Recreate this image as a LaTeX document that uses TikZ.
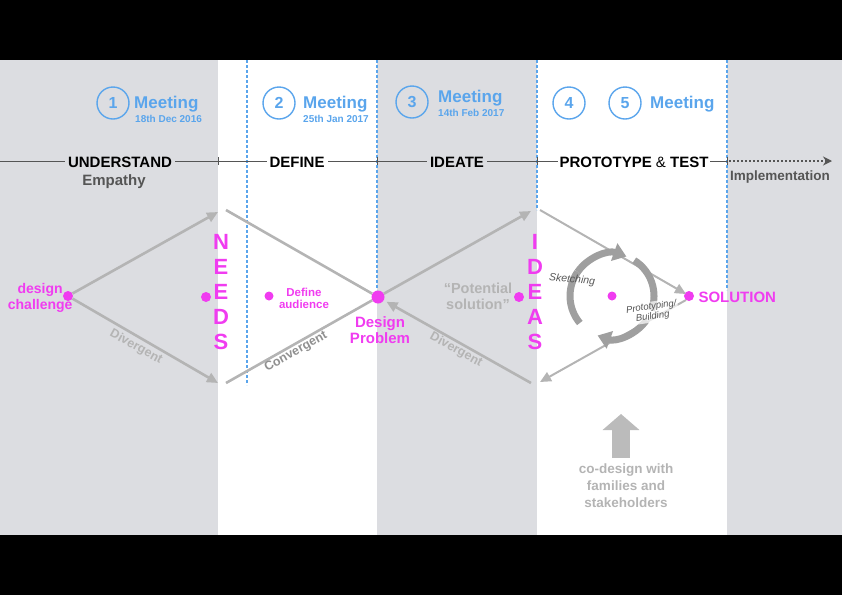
\documentclass[tikz,border=0pt]{standalone}
\usepackage{fontspec}
\setmainfont{Liberation Sans}
\usetikzlibrary{arrows.meta}
\definecolor{bandgray}{HTML}{DCDDE1}
\definecolor{blu}{HTML}{5AA5EC}
\definecolor{mag}{HTML}{F03CF0}
\definecolor{arr}{HTML}{B4B4B4}
\definecolor{dk}{HTML}{555555}
\begin{document}
\begin{tikzpicture}[x=1pt,y=-1pt,
  band/.style={fill=bandgray,draw=none},
  vdash/.style={blu,densely dashed,line width=1.2pt},
  num/.style={circle,draw=blu,line width=1.4pt,text=blu,minimum size=32pt,inner sep=0pt,font=\bfseries\fontsize{16}{16}\selectfont},
  meet/.style={text=blu,font=\bfseries\fontsize{17}{17}\selectfont,anchor=west,inner sep=0pt},
  date/.style={text=blu,font=\bfseries\fontsize{10}{10}\selectfont,anchor=west,inner sep=0pt},
  phase/.style={font=\bfseries\fontsize{15}{15}\selectfont,inner sep=3pt},
  big/.style={-{Triangle[length=11pt,width=10pt]},arr,line width=2.6pt},
  pt/.style={circle,fill=mag,inner sep=0pt,minimum size=10pt},
  mt/.style={text=mag,font=\bfseries\fontsize{15}{16}\selectfont,align=center},
  gl/.style={text=arr,font=\bfseries\fontsize{12.5}{12}\selectfont,inner sep=0pt},
  vert/.style={text=mag,font=\bfseries\fontsize{22}{25}\selectfont,align=center}]
\useasboundingbox (0,0) rectangle (842,595);
\fill[black] (0,0) rectangle (842,60);
\fill[black] (0,535) rectangle (842,595);
\fill[bandgray] (0,60) rectangle (218,535);
\fill[bandgray] (377,60) rectangle (537,535);
\fill[bandgray] (727,60) rectangle (842,535);
\draw[vdash] (247,60) -- (247,385);
\draw[vdash] (377,60) -- (377,290);
\draw[vdash] (537,60) -- (537,210);
\draw[vdash] (727,60) -- (727,290);
% meetings
\node[num] (n1) at (113,103) {1};
\node[meet] (m1) at (134,104) {Meeting};
\node[date] (d1) at (135,119) {18th Dec 2016};
\node[num] (n2) at (279,103) {2};
\node[meet] (m2) at (303,104) {Meeting};
\node[date] (d2) at (303,119) {25th Jan 2017};
\node[num] (n3) at (412,102) {3};
\node[meet] (m3) at (438,98) {Meeting};
\node[date] (d3) at (438,113) {14th Feb 2017};
\node[num] (n4) at (569,103) {4};
\node[num] (n5) at (625,103) {5};
\node[meet] (m5) at (650,104) {Meeting};
% timeline
\coordinate (t0) at (0,161);
\coordinate (tend) at (832,161);
\draw[dk,line width=0.8pt] (t0) -- (727,161);
\draw[dk,line width=2pt,dotted,-{Stealth[length=9pt,width=9pt]}] (729,161) -- (tend);
\foreach \x in {218,377,537,727} \draw[dk,line width=0.8pt] (\x,157) -- (\x,165);
\node[phase,fill=bandgray] (p1) at (120,162) {UNDERSTAND};
\node[text=dk,font=\bfseries\fontsize{15}{15}\selectfont] (emp) at (114,182) {Empathy};
\node[phase,fill=white] (p2) at (297,162) {DEFINE};
\node[phase,fill=bandgray] (p3) at (457,162) {IDEATE};
\node[phase,fill=white,inner xsep=2pt] (p4) at (634,162) {PROTOTYPE {\mdseries\&} TEST};
\node[text=dk,font=\bfseries\fontsize{13.5}{13}\selectfont] (impl) at (780,177) {Implementation};
% points
\node[pt] (dc) at (68,296) {};
\node[mt,anchor=east,font=\bfseries\fontsize{14}{16}\selectfont] (dct) at (76,298) {design\\challenge};
\node[pt] (ne) at (206,297) {};
\node[vert] (needs) at (221,292) {N\\E\\E\\D\\S};
\node[pt,minimum size=9pt] (da) at (269,296) {};
\node[mt,font=\bfseries\fontsize{11.5}{12}\selectfont] (dat) at (304,298) {Define\\audience};
\node[pt,minimum size=13pt] (dp) at (378,297) {};
\node[mt] (dpt) at (380,330) {Design\\Problem};
\node[text=arr,font=\bfseries\fontsize{14.5}{16}\selectfont,align=center] (ps) at (478,296) {“Potential\\solution”};
\node[pt] (id) at (519,297) {};
\node[vert] (ideas) at (535,292) {I\\D\\E\\A\\S};
\node[pt,minimum size=9pt] (cc) at (612,296) {};
\node[pt] (so) at (689,296) {};
\node[mt,anchor=west] (sot) at (695,297) {SOLUTION};
% diamonds
\coordinate (a1) at (218,212); \coordinate (a2) at (218,383);
\draw[big] (dc) -- (a1);
\draw[big] (dc) -- (a2);
\coordinate (b1) at (226,210); \coordinate (b2) at (226,383);
\draw[arr,line width=2.6pt] (b1) -- (dp);
\draw[arr,line width=2.6pt] (b2) -- (dp);
\coordinate (c1) at (531,211); \coordinate (c2) at (531,383);
\draw[big] (dp) -- (c1);
\draw[big,shorten >=3pt] (c2) -- (dp);
\coordinate (e1) at (540,210); \coordinate (e2) at (540,382);
\draw[big,line width=2pt] (e1) -- (686,294);
\draw[big,line width=2pt] (686,300) -- (e2);
\node[gl,rotate=-29] (dv1) at (136,347) {Divergent};
\node[gl,rotate=29,text=arr!80!black] (cv) at (296,352) {Convergent};
\node[gl,rotate=-29] (dv2) at (456,350) {Divergent};
% cycle
\begin{scope}[shift={(612,296)}]
\draw[gray!75,line width=7pt,-{Triangle[length=13pt,width=18pt]}] (-145:42) arc (-145:-70:42);
\draw[gray!75,line width=7pt] (-58:42) arc (-58:20:42);
\draw[gray!75,line width=7pt,-{Triangle[length=13pt,width=18pt]}] (35:42) arc (35:110:42);
\draw[gray!75,line width=7pt] (140:42) arc (140:215:42);
\end{scope}
\node[text=dk,font=\itshape\fontsize{10.5}{10}\selectfont,rotate=-5,inner sep=1pt] (sk) at (572,280) {Sketching};
\node[text=dk,font=\itshape\fontsize{9.5}{10}\selectfont,align=center,rotate=8,inner sep=1pt,fill=white,fill opacity=0.7,text opacity=1] (pb) at (652,312) {Prototyping/\\Building};
% co-design
\node[text=arr,font=\bfseries\fontsize{13.5}{17}\selectfont,align=center] (co) at (626,486) {co-design with\\families and\\stakeholders};
\draw[-{Triangle[length=16pt,width=36pt]},arr!90,line width=18pt] (621,458) -- (621,414);
\end{tikzpicture}
\end{document}
